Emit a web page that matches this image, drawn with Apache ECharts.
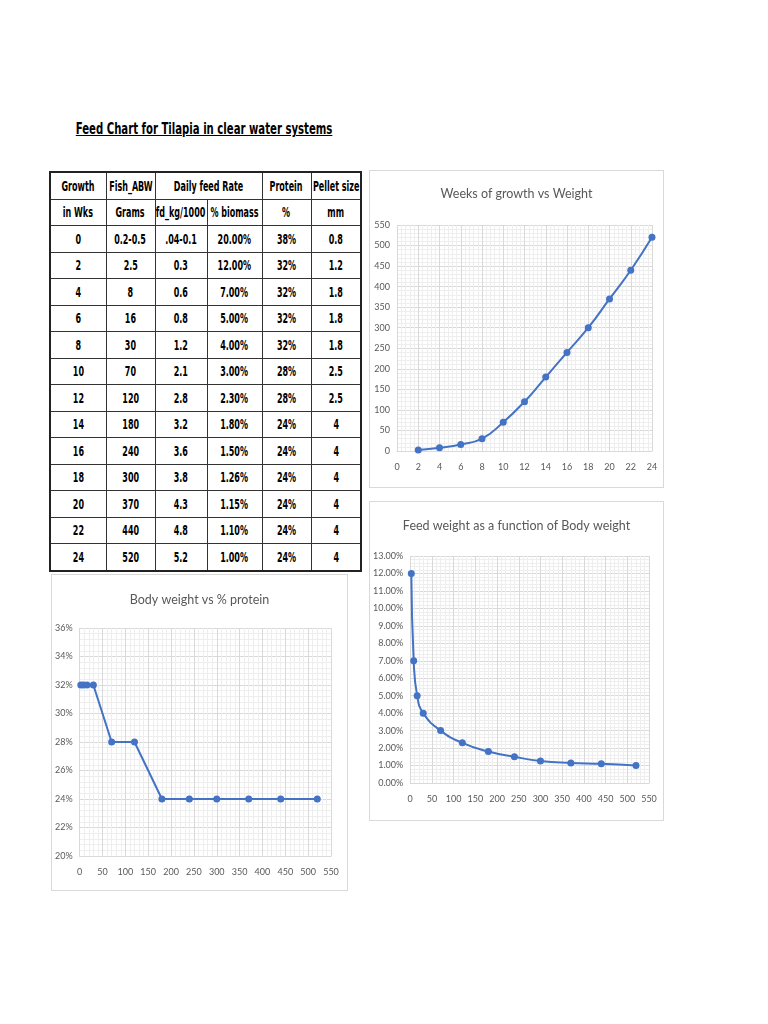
<!DOCTYPE html>
<html>
<head>
<meta charset="utf-8">
<script src="https://cdn.jsdelivr.net/npm/echarts@6/dist/echarts.min.js"></script>
<style>
html,body{margin:0;padding:0;background:#fff;width:768px;height:1024px;overflow:hidden;}
#title{position:absolute;left:0;width:408px;top:120px;text-align:center;font-family:"DejaVu Sans Condensed","DejaVu Sans",sans-serif;font-weight:bold;font-size:15px;color:#000;}
#title span{display:inline-block;margin:0 -100px;transform:scaleX(0.75);text-decoration:underline;}
#tbl{position:absolute;left:49px;top:171px;width:311px;border-collapse:collapse;border:2px solid #222;font-family:"DejaVu Sans Condensed","DejaVu Sans",sans-serif;font-weight:bold;font-size:13.5px;color:#000;table-layout:fixed;}
#tbl td{border:1px solid #333;height:25.5px;padding:0;text-align:center;vertical-align:middle;white-space:nowrap;}
#tbl td span{display:inline-block;margin:0 -60px;transform:scaleX(0.66);}
.frame{position:absolute;border:1px solid #d9d9d9;background:#fff;box-sizing:border-box;}
</style>
</head>
<body>
<div id="title"><span>Feed Chart for Tilapia in clear water systems</span></div>
<table id="tbl"></table>
<div id="c1" class="frame" style="left:369px;top:170px;width:295px;height:318px;"></div>
<div id="c2" class="frame" style="left:369px;top:501px;width:295px;height:320px;"></div>
<div id="c3" class="frame" style="left:51px;top:574px;width:297px;height:317px;"></div>
<script>
// ---- table data ----
const headerRow1 = ['Growth', 'Fish_ABW', 'Daily feed Rate', 'Protein', 'Pellet size'];
const headerRow2 = ['in Wks', 'Grams', 'fd_kg/1000', '% biomass', '%', 'mm'];
const weeksCol = ['0','2','4','6','8','10','12','14','16','18','20','22','24'];
const gramsCol = ['0.2-0.5','2.5','8','16','30','70','120','180','240','300','370','440','520'];
const feedKgCol = ['.04-0.1','0.3','0.6','0.8','1.2','2.1','2.8','3.2','3.6','3.8','4.3','4.8','5.2'];
const biomassCol = ['20.00%','12.00%','7.00%','5.00%','4.00%','3.00%','2.30%','1.80%','1.50%','1.26%','1.15%','1.10%','1.00%'];
const proteinCol = ['38%','32%','32%','32%','32%','28%','28%','24%','24%','24%','24%','24%','24%'];
const pelletCol = ['0.8','1.2','1.8','1.8','1.8','2.5','2.5','4','4','4','4','4','4'];

// ---- chart data ----
const growthWeeks = [2,4,6,8,10,12,14,16,18,20,22,24];
const bodyWeight = [2.5,8,16,30,70,120,180,240,300,370,440,520];
const feedPctBiomass = [12,7,5,4,3,2.3,1.8,1.5,1.26,1.15,1.10,1.00];
const proteinPct = [32,32,32,32,28,28,24,24,24,24,24,24];

// build table
const colW = [56,49,52,55,49,50];
const tbl = document.getElementById('tbl');
const cg = document.createElement('colgroup');
colW.forEach(w => { const c = document.createElement('col'); c.style.width = w + 'px'; cg.appendChild(c); });
tbl.appendChild(cg);
function cell(text, span) {
  const td = document.createElement('td');
  const s = document.createElement('span');
  s.textContent = text;
  td.appendChild(s);
  if (span) td.colSpan = span;
  return td;
}
let tr = document.createElement('tr');
headerRow1.forEach((h, i) => tr.appendChild(cell(h, i === 2 ? 2 : 0)));
tbl.appendChild(tr);
tr = document.createElement('tr');
headerRow2.forEach(h => tr.appendChild(cell(h)));
tbl.appendChild(tr);
for (let i = 0; i < weeksCol.length; i++) {
  tr = document.createElement('tr');
  [weeksCol[i], gramsCol[i], feedKgCol[i], biomassCol[i], proteinCol[i], pelletCol[i]].forEach(v => tr.appendChild(cell(v)));
  tbl.appendChild(tr);
}

const FONT = 'Lato, "DejaVu Sans Condensed", sans-serif';
const BLUE = '#4472C4';
function axis(min, max, interval, fmt, isX) {
  return {
    type: 'value', min, max, interval,
    axisLine: { show: isX, lineStyle: { color: '#d9d9d9' } },
    axisTick: { show: false },
    axisLabel: { color: '#595959', fontSize: 9, fontFamily: FONT, formatter: fmt, margin: isX ? 12 : 7 },
    splitLine: { show: true, lineStyle: { color: '#d9d9d9', width: 1 } },
    minorTick: { show: false, splitNumber: 5 },
    minorSplitLine: { show: true, lineStyle: { color: '#eeeeee', width: 1 } }
  };
}
function title(t, top) {
  return { text: t, left: 'center', top, textStyle: { color: '#595959', fontSize: 12.5, fontWeight: 'normal', fontFamily: FONT } };
}
function line(data, smooth) {
  return {
    type: 'line', data, smooth,
    symbol: 'circle', symbolSize: 7,
    lineStyle: { color: BLUE, width: 2 }, itemStyle: { color: BLUE },
    animation: false
  };
}

const c1 = echarts.init(document.getElementById('c1'));
c1.setOption({
  animation: false,
  title: title('Weeks of growth vs Weight', 11),
  grid: { left: 27, right: 11, top: 54, bottom: 36 },
  xAxis: axis(0, 24, 2, null, true),
  yAxis: axis(0, 550, 50, null, false),
  series: [line(growthWeeks.map((w, i) => [w, bodyWeight[i]]), 0.5)]
});

const c2 = echarts.init(document.getElementById('c2'));
c2.setOption({
  animation: false,
  title: title('Feed weight as a function of Body weight', 12),
  grid: { left: 39, right: 14, top: 54, bottom: 37 },
  xAxis: axis(0, 550, 50, null, true),
  yAxis: axis(0, 13, 1, v => v.toFixed(2) + '%', false),
  series: [line(bodyWeight.map((w, i) => [w, feedPctBiomass[i]]), 0.5)]
});

const c3 = echarts.init(document.getElementById('c3'));
c3.setOption({
  animation: false,
  title: title('Body weight vs % protein', 13),
  grid: { left: 27, right: 16, top: 53, bottom: 34 },
  xAxis: axis(0, 550, 50, null, true),
  yAxis: axis(20, 36, 2, v => v + '%', false),
  series: [line(bodyWeight.map((w, i) => [w, proteinPct[i]]), false)]
});
</script>
</body>
</html>
